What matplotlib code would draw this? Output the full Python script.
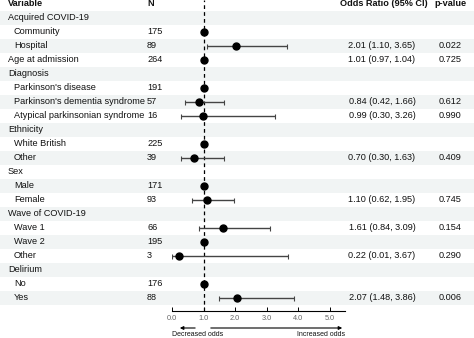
import matplotlib
matplotlib.use("Agg")
import matplotlib.pyplot as plt
import matplotlib.transforms as mtransforms
import numpy as np

plt.rcParams['font.family'] = ['Liberation Sans', 'DejaVu Sans']

labels = ["Acquired COVID-19", "Community", "Hospital", "Age at admission", "Diagnosis",
          "Parkinson's disease", "Parkinson's dementia syndrome", "Atypical parkinsonian syndrome",
          "Ethnicity", "White British", "Other", "Sex", "Male", "Female", "Wave of COVID-19",
          "Wave 1", "Wave 2", "Other", "Delirium", "No", "Yes"]
indent = [0, 1, 1, 0, 0, 1, 1, 1, 0, 1, 1, 0, 1, 1, 0, 1, 1, 1, 0, 1, 1]
n_vals = ["", "175", "89", "264", "", "191", "57", "16", "", "225", "39", "", "171", "93", "",
          "66", "195", "3", "", "176", "88"]
or_est = [np.nan, 1.0, 2.01, 1.01, np.nan, 1.0, 0.84, 0.99, np.nan, 1.0, 0.70, np.nan, 1.0, 1.10,
          np.nan, 1.61, 1.0, 0.22, np.nan, 1.0, 2.07]
ci_lo = [np.nan, np.nan, 1.10, 0.97, np.nan, np.nan, 0.42, 0.30, np.nan, np.nan, 0.30, np.nan, np.nan,
         0.62, np.nan, 0.84, np.nan, 0.01, np.nan, np.nan, 1.48]
ci_hi = [np.nan, np.nan, 3.65, 1.04, np.nan, np.nan, 1.66, 3.26, np.nan, np.nan, 1.63, np.nan, np.nan,
         1.95, np.nan, 3.09, np.nan, 3.67, np.nan, np.nan, 3.86]
or_text = ["", "", "2.01 (1.10, 3.65)", "1.01 (0.97, 1.04)", "", "", "0.84 (0.42, 1.66)",
           "0.99 (0.30, 3.26)", "", "", "0.70 (0.30, 1.63)", "", "", "1.10 (0.62, 1.95)", "",
           "1.61 (0.84, 3.09)", "", "0.22 (0.01, 3.67)", "", "", "2.07 (1.48, 3.86)"]
p_text = ["", "", "0.022", "0.725", "", "", "0.612", "0.990", "", "", "0.409", "", "", "0.745", "",
          "0.154", "", "0.290", "", "", "0.006"]
xticks = [0, 1, 2, 3, 4, 5]
xtick_labels = ["0.0", "1.0", "2.0", "3.0", "4.0", "5.0"]

W, H = 474, 338
fig = plt.figure(figsize=(W / 100, H / 100), dpi=100)

axis_px = 310.7
ytop = (0 - 4) / 14
ybot = (axis_px - 4) / 14
b = 1 - axis_px / H
h = axis_px / H

# background stripes
bg = fig.add_axes([0, b, 1, h])
bg.set_xlim(0, 1)
bg.set_ylim(ybot, ytop)
bg.axis('off')
rows = np.arange(1, len(labels) + 1)
for r in rows:
    if r % 2 == 1:
        bg.axhspan(r - 0.5, r + 0.5, color='#f1f4f4', lw=0)

left_px, right_px = 172, 345
ppu = 31.6
ax = fig.add_axes([left_px / W, b, (right_px - left_px) / W, h])
ax.set_facecolor('none')
ax.set_xlim(0, (right_px - left_px) / ppu)
ax.set_ylim(ybot, ytop)
for s in ['top', 'right', 'left']:
    ax.spines[s].set_visible(False)
ax.spines['bottom'].set_linewidth(0.8)
ax.set_yticks([])
ax.set_xticks(xticks)
ax.set_xticklabels(xtick_labels, fontsize=5.3, color='#666666')
ax.tick_params(axis='x', direction='in', length=3, width=0.7, pad=3)

ax.axvline(1, color='black', lw=0.9, ls=(0, (3, 2.5)), zorder=2)

est = np.array(or_est)
lo = np.array(ci_lo)
hi = np.array(ci_hi)
has_ci = ~np.isnan(lo)
ax.errorbar(est[has_ci], rows[has_ci], xerr=[est[has_ci] - lo[has_ci], hi[has_ci] - est[has_ci]],
            fmt='none', ecolor='#444444', elinewidth=1.0, capsize=1.8, capthick=0.8, zorder=3)
ok = ~np.isnan(est)
ax.plot(est[ok], rows[ok], 'o', color='black', ms=5, zorder=4)

tr = mtransforms.blended_transform_factory(fig.transFigure, ax.transData)
fs = 6.6
col = '#111111'
ax.text(8 / W, 0, "Variable", transform=tr, fontsize=fs, fontweight='bold', va='center', ha='left', color=col)
ax.text(147 / W, 0, "N", transform=tr, fontsize=fs, fontweight='bold', va='center', ha='left', color=col)
ax.text(384 / W, 0, "Odds Ratio (95% CI)", transform=tr, fontsize=fs, fontweight='bold', va='center', ha='center', color=col)
ax.text(450 / W, 0, "p-value", transform=tr, fontsize=fs, fontweight='bold', va='center', ha='center', color=col)
for r, lab, ind, nv, ot, pt in zip(rows, labels, indent, n_vals, or_text, p_text):
    ax.text((14 if ind else 8) / W, r, lab, transform=tr, fontsize=fs, va='center', ha='left', color=col)
    if nv:
        ax.text(147 / W, r, nv, transform=tr, fontsize=fs, va='center', ha='left', color=col)
    if ot:
        ax.text(382 / W, r, ot, transform=tr, fontsize=fs, va='center', ha='center', color=col)
    if pt:
        ax.text(450 / W, r, pt, transform=tr, fontsize=fs, va='center', ha='center', color=col)

# direction arrows
xmax = (right_px - left_px) / ppu
arrow_y = H - 328
ax.annotate("", xy=(0.16, arrow_y), xytext=(0.82, arrow_y), xycoords=('data', 'figure pixels'),
            textcoords=('data', 'figure pixels'),
            arrowprops=dict(arrowstyle='-|>', color='black', lw=0.8, mutation_scale=5), annotation_clip=False)
ax.annotate("", xy=(xmax, arrow_y), xytext=(1.14, arrow_y), xycoords=('data', 'figure pixels'),
            textcoords=('data', 'figure pixels'),
            arrowprops=dict(arrowstyle='-|>', color='black', lw=0.8, mutation_scale=5), annotation_clip=False)
ax.annotate("Decreased odds", xy=(0, H - 334), xycoords=('data', 'figure pixels'), fontsize=5,
            ha='left', va='center', color=col, annotation_clip=False)
ax.annotate("Increased odds", xy=(xmax, H - 334), xycoords=('data', 'figure pixels'), fontsize=5,
            ha='right', va='center', color=col, annotation_clip=False)

fig.savefig("out.png", dpi=100)
